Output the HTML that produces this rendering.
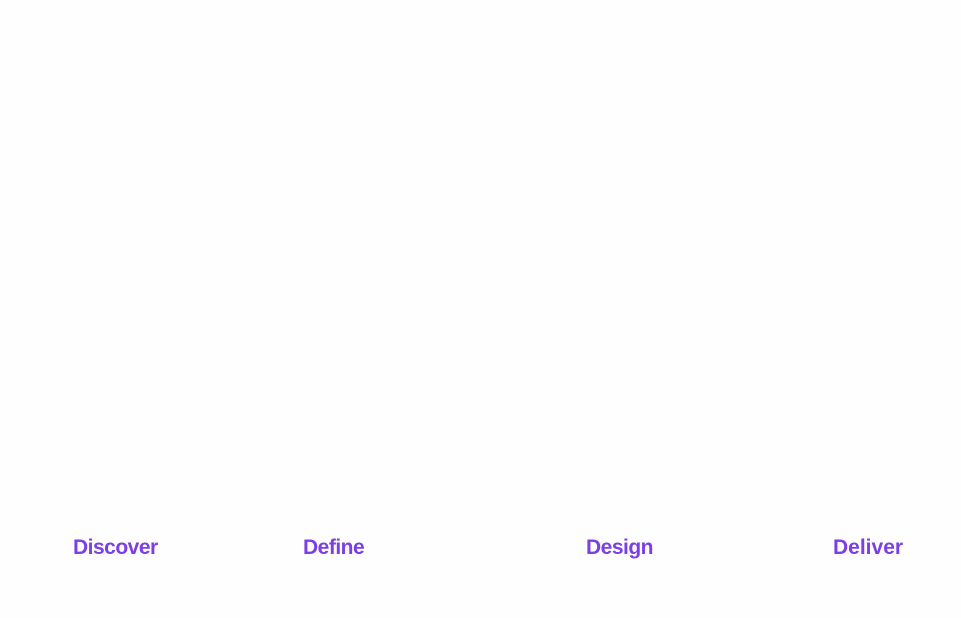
<!DOCTYPE html>
<html><head><meta charset="utf-8"><style>
html,body{margin:0;padding:0;background:#fefefe;}
body{width:961px;height:618px;position:relative;overflow:hidden;font-family:"Liberation Sans",sans-serif;}
span{position:absolute;top:537px;font-size:21px;line-height:21px;font-weight:bold;color:#7b3fe4;letter-spacing:-0.5px;white-space:nowrap;}
</style></head><body>
<span style="left:73px">Discover</span>
<span style="left:303px">Define</span>
<span style="left:586px">Design</span>
<span style="left:833px;letter-spacing:0px">Deliver</span>
</body></html>
